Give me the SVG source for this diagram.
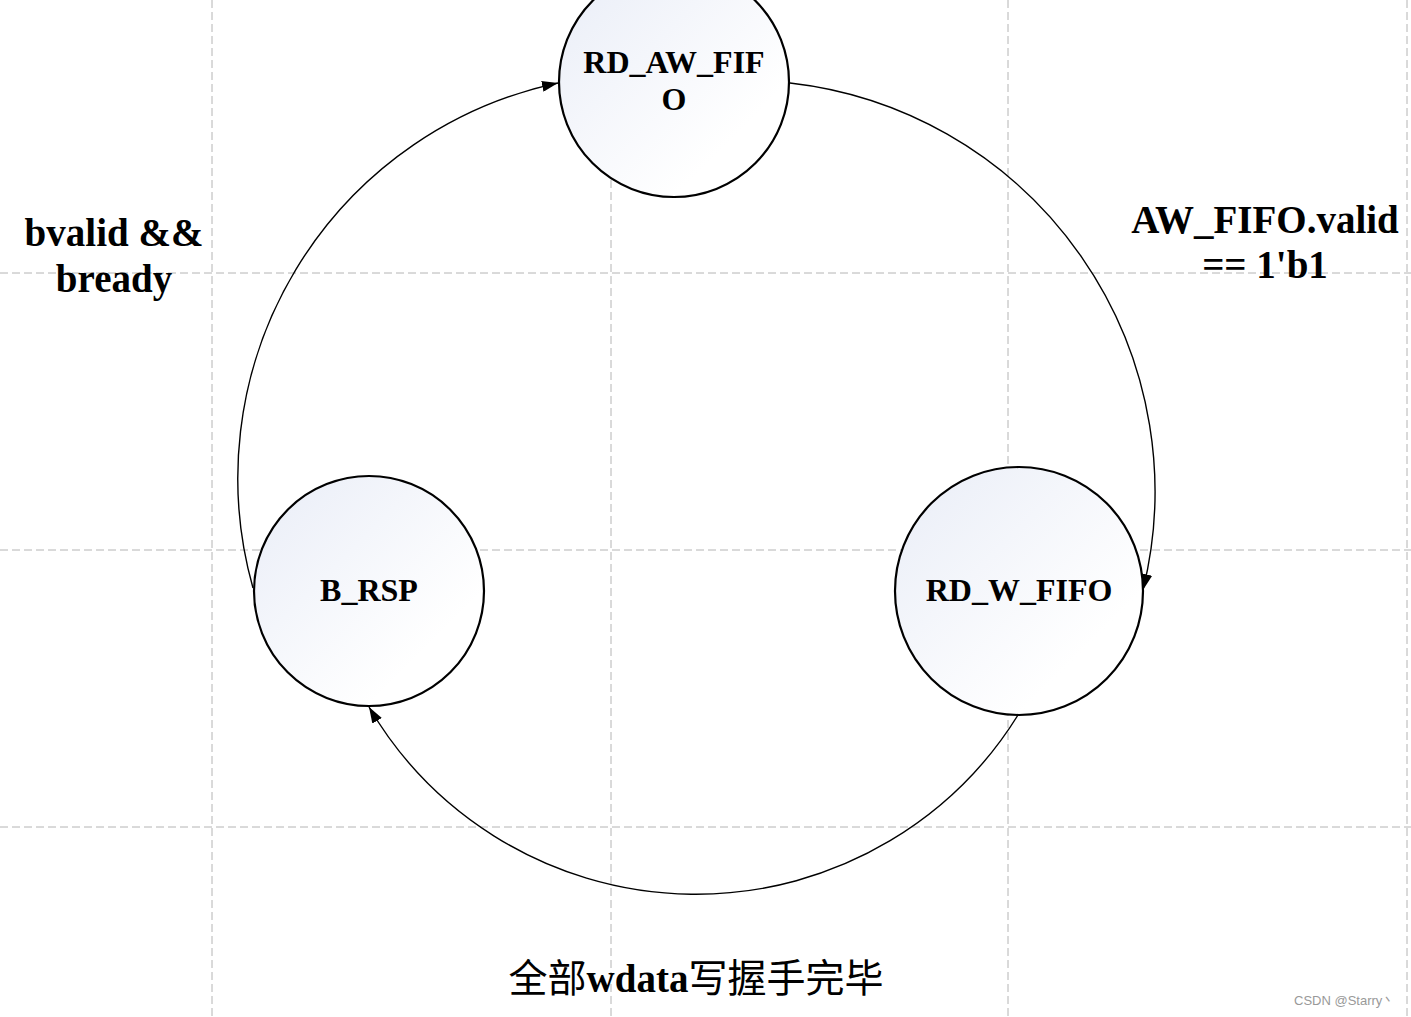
<svg xmlns="http://www.w3.org/2000/svg" width="1411" height="1017" viewBox="0 0 1411 1017">
<style>
.grid{stroke:#b4b4b4;stroke-width:1;stroke-dasharray:8 4;fill:none}
.node{stroke:#000;stroke-width:2.2;fill:url(#nodefill)}
.edge{stroke:#000;stroke-width:1.4;fill:none;marker-end:url(#arrow)}
.nlabel{font-family:"Liberation Serif","Times New Roman",serif;font-weight:bold;font-size:32px;text-anchor:middle;fill:#000}
.elabel{font-family:"Liberation Serif","Times New Roman",serif;font-weight:bold;font-size:39px;text-anchor:middle;fill:#000}
.cjk{font-family:"Liberation Serif","Noto Sans CJK SC",serif;font-size:39px;text-anchor:middle;fill:#000}
.wm{font-family:"Liberation Sans",Arial,sans-serif;font-size:13px;fill:#999}
</style>
<defs>
<linearGradient id="nodefill" x1="0" y1="0" x2="1" y2="1">
<stop offset="0" stop-color="#e9edf7"/>
<stop offset="0.75" stop-color="#ffffff"/>
</linearGradient>
<marker id="arrow" viewBox="0 0 16 11" refX="16" refY="5.5" markerWidth="16" markerHeight="11" markerUnits="userSpaceOnUse" orient="auto">
<path d="M0,0 L16,5.5 L0,11 Z" fill="#000"/>
</marker>
</defs>
<rect width="1411" height="1017" fill="#fff"/>
<g id="grid">
<line class="grid" x1="212" y1="0" x2="212" y2="1017"/>
<line class="grid" x1="611" y1="0" x2="611" y2="1017"/>
<line class="grid" x1="1008" y1="0" x2="1008" y2="1017"/>
<line class="grid" x1="1407" y1="0" x2="1407" y2="1017"/>
<line class="grid" x1="0" y1="273" x2="1411" y2="273"/>
<line class="grid" x1="0" y1="550" x2="1411" y2="550"/>
<line class="grid" x1="0" y1="827" x2="1411" y2="827"/>
</g>
<g id="connectors">
<path id="e1" class="edge" d="M790,83 A411,411 0 0,1 1143,590"/>
<path id="e2" class="edge" d="M1018,715 A379,379 0 0,1 369,707"/>
<path id="e3" class="edge" d="M253,588 A404,404 0 0,1 558,83"/>
</g>
<g id="node-rd-aw-fifo">
<circle class="node" cx="674" cy="82" r="115"/>
<text class="nlabel" x="674" y="73">RD_AW_FIF</text>
<text class="nlabel" x="674" y="110">O</text>
</g>
<g id="node-rd-w-fifo">
<circle class="node" cx="1019" cy="591" r="124"/>
<text class="nlabel" x="1019" y="601">RD_W_FIFO</text>
</g>
<g id="node-b-rsp">
<circle class="node" cx="369" cy="591" r="115"/>
<text class="nlabel" x="369" y="601">B_RSP</text>
</g>
<g id="labels">
<text class="elabel" x="114" y="246">bvalid &amp;&amp;</text>
<text class="elabel" x="114" y="292">bready</text>
<text class="elabel" x="1265" y="233">AW_FIFO.valid</text>
<text class="elabel" x="1265" y="278">== 1'b1</text>
<text class="cjk" x="696" y="992">全部<tspan font-weight="bold">wdata</tspan>写握手完毕</text>
</g>
<text class="wm" x="1294" y="1005">CSDN @Starry丶</text>
</svg>
